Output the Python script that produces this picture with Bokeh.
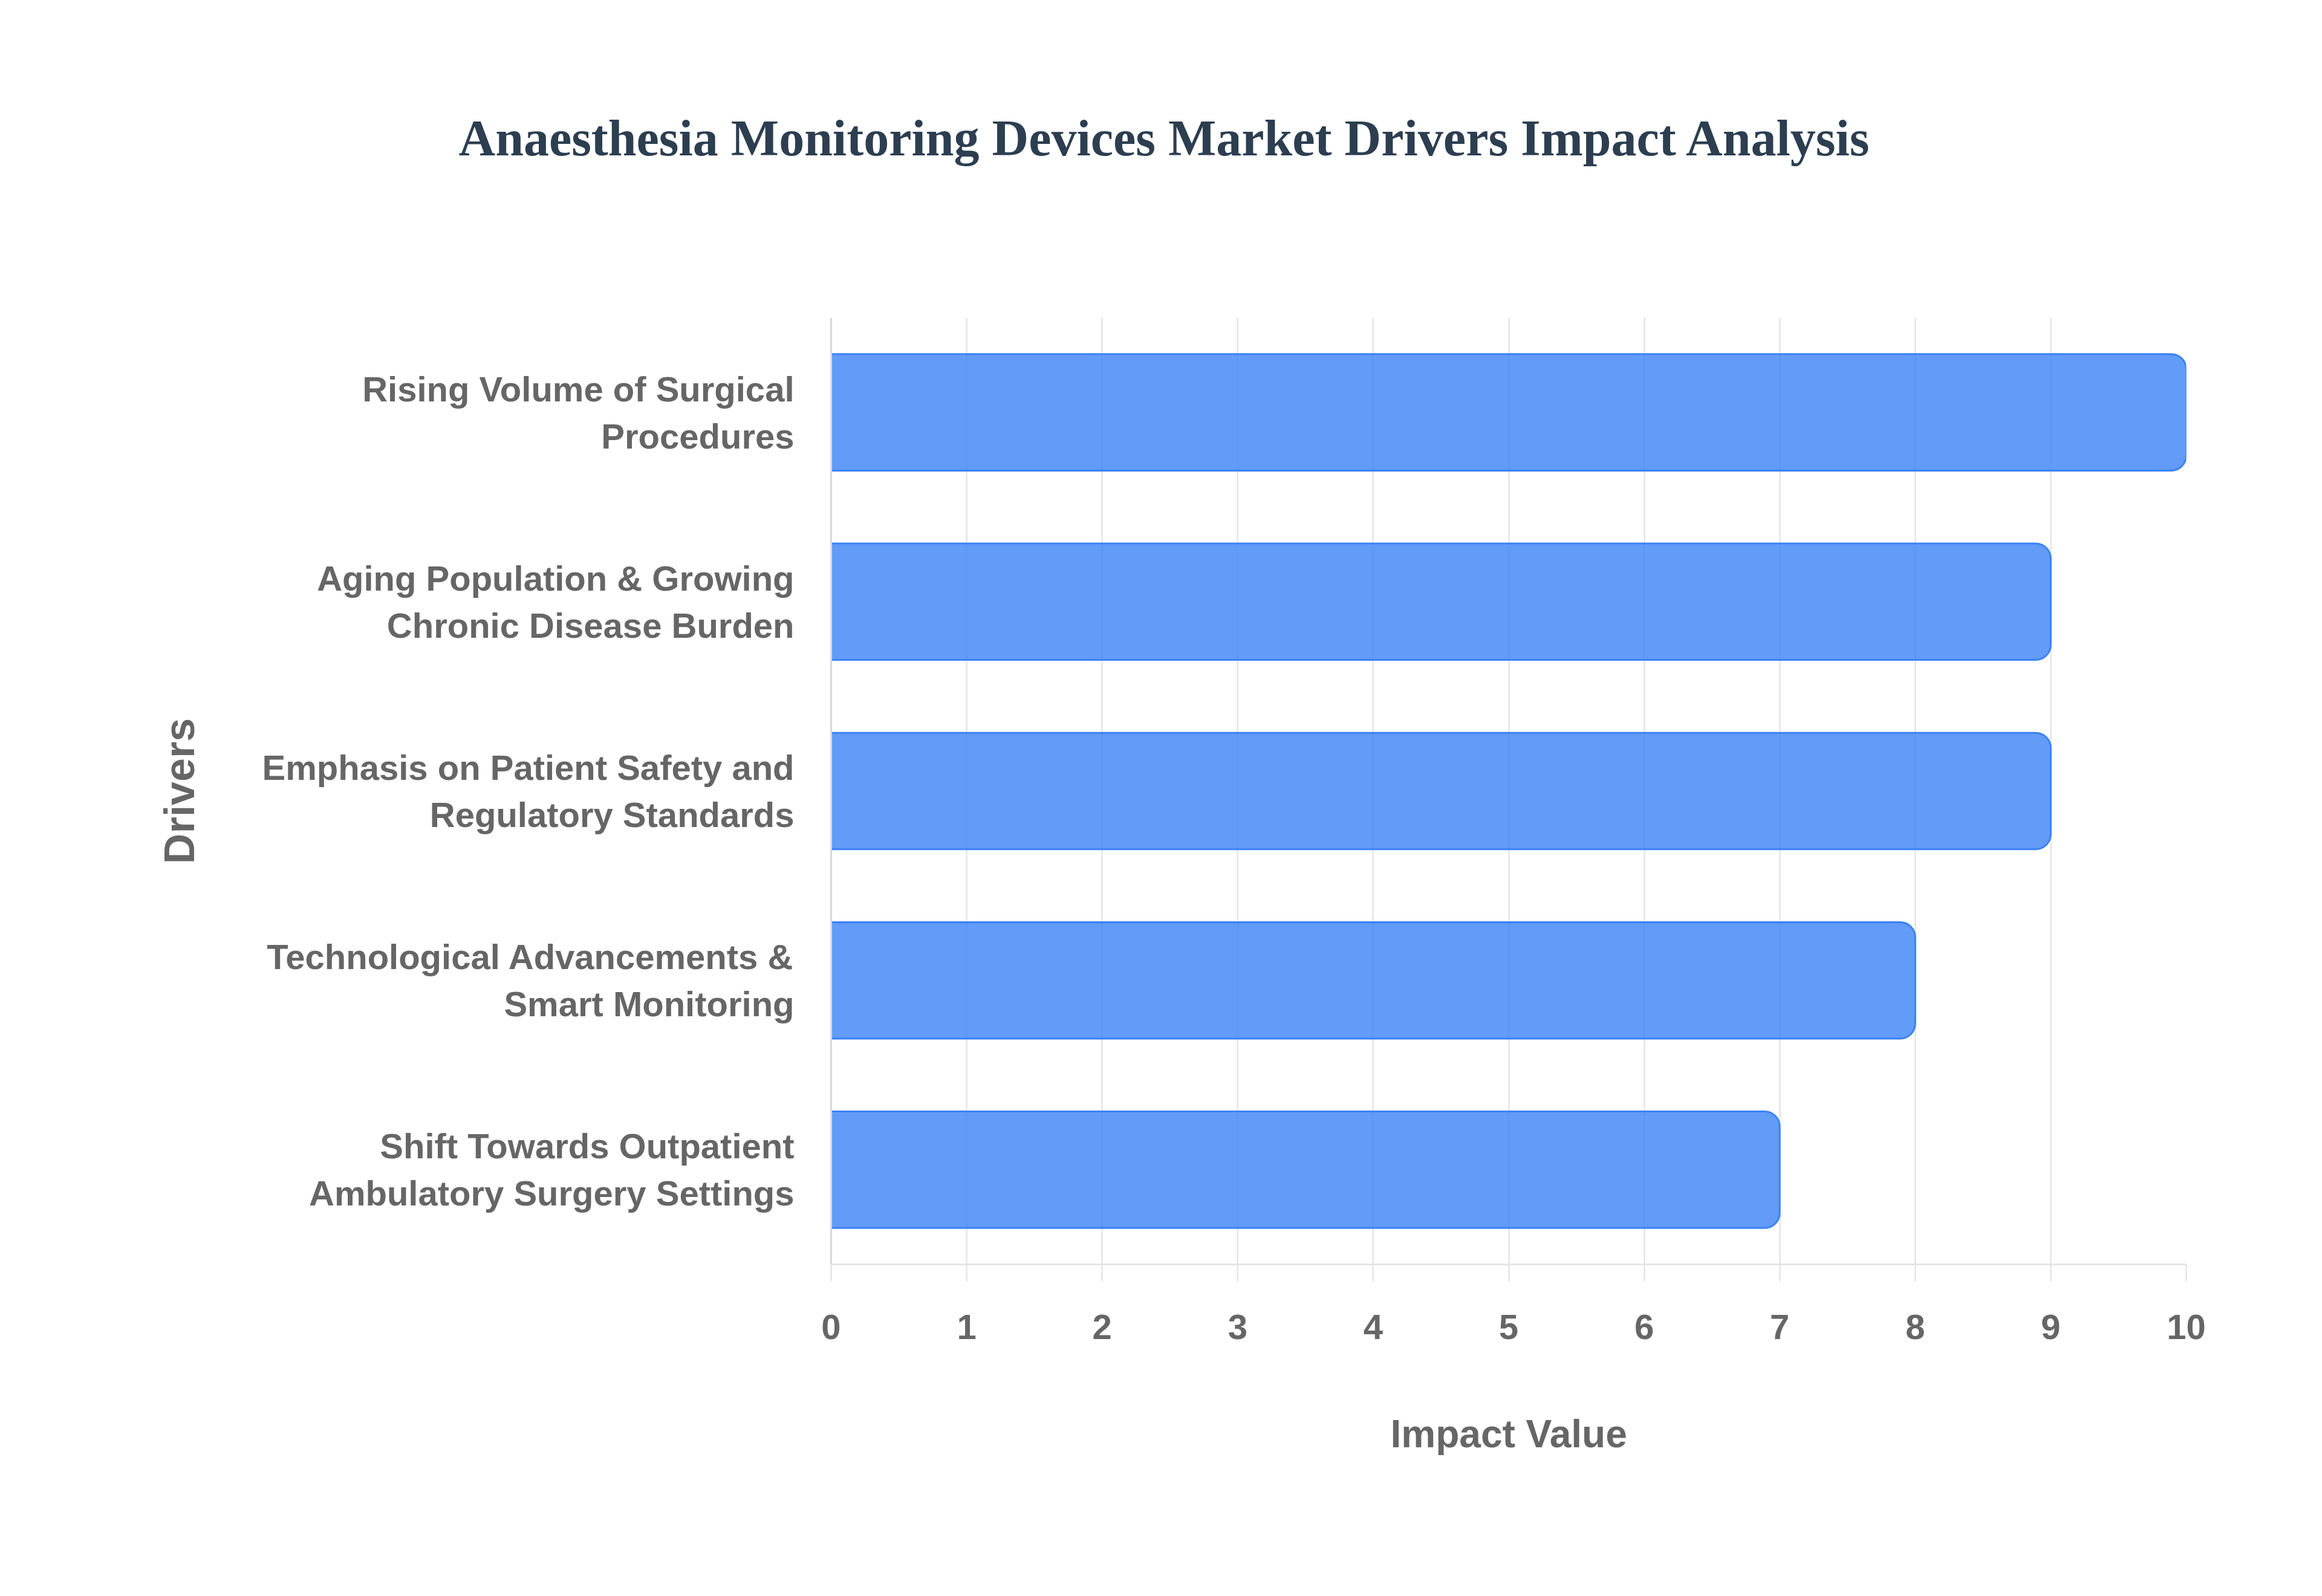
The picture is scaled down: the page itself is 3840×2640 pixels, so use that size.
import math

from bokeh.plotting import figure
from bokeh.models import FixedTicker, Range1d, FactorRange, Span, ColumnDataSource, Title
from bokeh.core.properties import value
from bokeh.embed import file_html
from bokeh.resources import INLINE

TITLE = "Anaesthesia Monitoring Devices Market Drivers Impact Analysis"
X_TITLE = "Impact Value"
Y_TITLE = "Drivers"

drivers = [
    "Rising Volume of Surgical Procedures",
    "Aging Population & Growing Chronic Disease Burden",
    "Emphasis on Patient Safety and Regulatory Standards",
    "Technological Advancements & Smart Monitoring",
    "Shift Towards Outpatient Ambulatory Surgery Settings",
]
driver_labels = [
    "Rising Volume of Surgical\nProcedures",
    "Aging Population & Growing\nChronic Disease Burden",
    "Emphasis on Patient Safety and\nRegulatory Standards",
    "Technological Advancements &\nSmart Monitoring",
    "Shift Towards Outpatient\nAmbulatory Surgery Settings",
]
impact = [10, 9, 9, 8, 7]
x_ticks = list(range(0, 11))

BAR_FILL = "#3b82f6"
GRID = "#e5e5e5"
TEXT = "#666666"
SANS = "Liberation Sans"

# the label column lives inside the frame, left of the value 0
LABEL_PX = 1374
PLOT_PX = 2241
X_MAX = 10
x_start = -X_MAX * LABEL_PX / PLOT_PX

factors = drivers[::-1]

p = figure(
    width=LABEL_PX + PLOT_PX + 190,
    height=2620,
    y_range=FactorRange(factors=factors, range_padding=0),
    x_range=Range1d(x_start, X_MAX),
    output_backend="svg",
    toolbar_location=None,
    tools="",
    min_border_left=0,
    min_border_right=190,
    min_border_top=525,
    min_border_bottom=529,
)

p.hbar(
    y=drivers,
    right=impact,
    left=0,
    height=0.615,
    fill_color=BAR_FILL,
    fill_alpha=0.8,
    line_color=BAR_FILL,
    line_width=3,
    border_radius=(0, 25, 25, 0),
)

p.add_layout(Span(location=0, dimension="height", line_color="#d9d9d9", line_width=3))

# two-line category labels, right-aligned next to the value axis
src = ColumnDataSource(dict(
    y=drivers,
    x=[0] * len(drivers),
    first=[s.split("\n")[0] for s in driver_labels],
    second=[s.split("\n")[1] for s in driver_labels],
))
for col, dy in (("first", -39), ("second", 39)):
    p.text(
        x="x", y="y", text=col, source=src,
        x_offset=-61, y_offset=dy,
        text_align="right", text_baseline="middle",
        text_font=value(SANS), text_font_style="bold", text_font_size="58px",
        text_color=TEXT,
    )

# y axis title
p.text(
    x=[0], y=[len(factors) / 2], text=[Y_TITLE],
    x_offset=-1078, angle=math.pi / 2,
    text_align="center", text_baseline="middle",
    text_font=value(SANS), text_font_style="bold", text_font_size="70px",
    text_color=TEXT,
)

# x axis title, centred under the 0..10 value span
p.add_layout(Title(
    text=X_TITLE, align="left", offset=2299, standoff=232,
    text_font=SANS, text_font_style="bold", text_font_size="64px",
    text_color=TEXT,
), "below")

# empty spacer between the frame and the main title
p.add_layout(Title(text=" ", text_font_size="1px", standoff=248), "above")
p.add_layout(Title(
    text=TITLE, align="left", offset=758, standoff=0,
    text_font="Liberation Serif", text_font_style="bold", text_font_size="84px",
    text_color="#2c3e50",
), "above")

p.outline_line_color = None
p.background_fill_color = "white"

p.ygrid.visible = False
p.yaxis.visible = False
p.xgrid.grid_line_color = GRID
p.xgrid.grid_line_width = 2.5
p.xgrid.bounds = (0, X_MAX)

p.xaxis.ticker = FixedTicker(ticks=x_ticks)
p.xaxis.bounds = (0, X_MAX)
p.xaxis.axis_line_color = GRID
p.xaxis.axis_line_width = 3
p.xaxis.major_tick_line_color = GRID
p.xaxis.major_tick_line_width = 2.5
p.xaxis.major_tick_out = 28
p.xaxis.major_tick_in = 0
p.xaxis.minor_tick_line_color = None
p.xaxis.major_label_standoff = 55
p.xaxis.major_label_text_font = SANS
p.xaxis.major_label_text_font_style = "bold"
p.xaxis.major_label_text_font_size = "58px"
p.xaxis.major_label_text_color = TEXT

open("out.html", "w").write(file_html(p, INLINE))
